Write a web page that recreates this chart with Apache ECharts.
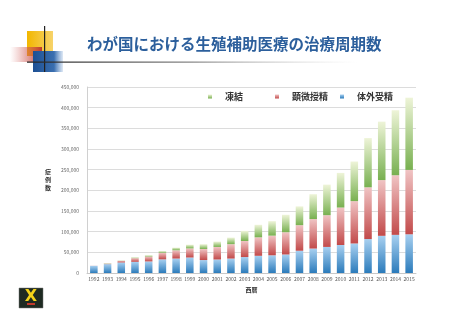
<!DOCTYPE html>
<html><head><meta charset="utf-8">
<script src="https://cdn.jsdelivr.net/npm/echarts@6/dist/echarts.min.js"></script>
<style>html,body{margin:0;padding:0;background:#fff}#c{width:474px;height:335px}</style>
</head><body><div id="c"></div>
<script>
const years = ['1992','1993','1994','1995','1996','1997','1998','1999','2000','2001','2002','2003','2004','2005','2006','2007','2008','2009','2010','2011','2012','2013','2014','2015'];
const ivf    = [17400,21500,25500,27000,28000,33000,35000,37500,31334,32676,34953,38575,41619,42822,44778,53873,59148,63083,67714,71422,82108,89950,92269,93614];
const icsi   = [500,1500,4000,9000,12000,16000,20000,22000,26712,30369,34824,38871,44698,47579,53873,61813,71350,76790,90677,102473,125229,134871,144247,155797];
const frozen = [0,500,1000,2000,3000,4000,6500,9000,11653,13034,15887,24465,30287,35069,42171,45478,60115,73927,83770,95764,119089,141335,157229,174740];
const yTicks = [0,50000,100000,150000,200000,250000,300000,350000,400000,450000];
const seriesNames = ['凍結','顕微授精','体外受精'];

const FONT = '"Noto Sans CJK JP", "Noto Sans", sans-serif';
const grad = (top, bottom) => new echarts.graphic.LinearGradient(0,0,0,1,[{offset:0,color:top},{offset:1,color:bottom}]);
const gradH = (stops) => new echarts.graphic.LinearGradient(0,0,1,0,stops);
const legendLefts = [208, 275, 340];
const mkLegend = (name, left) => ({
  data:[name], top:92, left:left, padding:0,
  itemWidth:4, itemHeight:4, icon:'rect',
  textStyle:{fontSize:9, fontWeight:'bold', color:'#333', fontFamily:FONT, padding:[0,0,0,8]}
});

const chart = echarts.init(document.getElementById('c'), null, {renderer:'canvas'});
chart.setOption({
  animation:false,
  textStyle:{fontFamily:FONT},
  title:{text:'わが国における生殖補助医療の治療周期数', left:87, top:36, padding:0,
    textStyle:{fontSize:15.5, fontWeight:'bold', color:'#2c5f9c', fontFamily:FONT}},
  legend: seriesNames.map((n,i)=>mkLegend(n, legendLefts[i])),
  grid:{left:87, right:58, top:87, bottom:62},
  xAxis:{type:'category', data:years, name:'西暦', nameLocation:'middle', nameGap:14,
    nameTextStyle:{fontSize:6, fontWeight:'bold', color:'#333'},
    axisLine:{lineStyle:{color:'#c8c8c8'}}, axisTick:{show:false},
    axisLabel:{fontSize:5, color:'#555', margin:4, interval:0}},
  yAxis:{type:'value', min:0, max:450000, interval:50000,
    name:'症\n例\n数', nameLocation:'middle', nameGap:36, nameRotate:0,
    nameTextStyle:{fontSize:6, fontWeight:'bold', color:'#333', lineHeight:8},
    axisLine:{show:true, lineStyle:{color:'#d0d0d0'}}, axisTick:{show:false},
    splitLine:{lineStyle:{color:'#dcdcdc', width:1}},
    axisLabel:{fontSize:5, color:'#666', margin:8,
      formatter:v=>yTicks.indexOf(v)>=0 ? v.toLocaleString('en-US') : ''}},
  series:[
    {name:'体外受精', type:'bar', stack:'s', data:ivf, barWidth:'55%',
      itemStyle:{color:grad('#a8d0f0','#2b7bbb')}},
    {name:'顕微授精', type:'bar', stack:'s', data:icsi, barWidth:'55%',
      itemStyle:{color:grad('#f0c4c4','#c24a4a')}},
    {name:'凍結', type:'bar', stack:'s', data:frozen, barWidth:'55%',
      itemStyle:{color:grad('#eef4d8','#78b050')}}
  ],
  graphic:[
    {type:'rect', shape:{x:27,y:31,width:26,height:25}, style:{fill:gradH([{offset:0,color:'#f2b700'},{offset:1,color:'#f7d36a'}])}, silent:true},
    {type:'rect', shape:{x:10,y:47,width:32,height:15}, style:{fill:gradH([{offset:0,color:'rgba(220,120,120,0)'},{offset:1,color:'#c0392b'}])}, silent:true},
    {type:'rect', shape:{x:33,y:51,width:30,height:21}, style:{fill:gradH([{offset:0,color:'#1d4f93'},{offset:0.7,color:'#3a6fb0'},{offset:1,color:'rgba(90,140,200,0.2)'}])}, silent:true},
    {type:'rect', shape:{x:44,y:26,width:1.2,height:46}, style:{fill:'#222'}, silent:true},
    {type:'rect', shape:{x:27,y:61.5,width:330,height:1.3}, style:{fill:gradH([{offset:0,color:'#222'},{offset:0.5,color:'#888'},{offset:1,color:'rgba(200,200,200,0)'}])}, silent:true},
    {type:'rect', shape:{x:19,y:288,width:24,height:20}, style:{fill:'#1e2a22', stroke:'#777', lineWidth:0.5}, silent:true},
    {type:'text', style:{x:31,y:297,text:'X', fill:'#f3d21a', font:'bold 16px "DejaVu Sans"', align:'center', verticalAlign:'middle'}, silent:true},
    {type:'rect', shape:{x:27,y:303,width:8,height:2}, style:{fill:'#c0392b'}, silent:true}
  ]
});
</script></body></html>
